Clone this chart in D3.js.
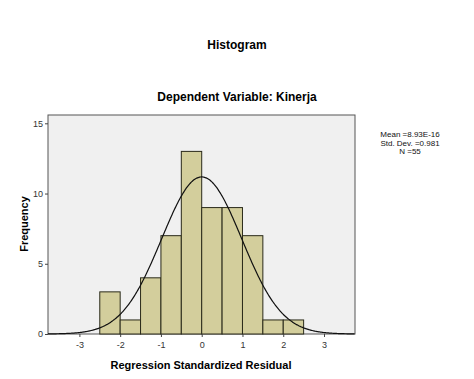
<!DOCTYPE html>
<html><head><meta charset="utf-8">
<script src="https://cdn.jsdelivr.net/npm/d3@7"></script>
<style>body{margin:0;background:#fff}svg{display:block}text{font-family:"Liberation Sans",Arial,sans-serif}</style>
</head><body>
<svg id="c" width="474" height="379"></svg>
<script>
const binStarts = [-2.5,-2.0,-1.5,-1.0,-0.5,0.0,0.5,1.0,1.5,2.0];
const binCounts = [3,1,4,7,13,9,9,7,1,1];
const binWidth = 0.5;
const xTicks = [-3,-2,-1,0,1,2,3];
const yTicks = [0,5,10,15];
const statMean = 8.93e-16, statSD = 0.981, statN = 55;
const statLines = ["Mean =8.93E-16","Std. Dev. =0.981","N =55"];

const svg = d3.select("#c");
const L=48, R=355, T=115, B=334;
const x = d3.scaleLinear().domain([-3.77,3.76]).range([L,R]);
const y = d3.scaleLinear().domain([0,15]).range([B,123.3]);

svg.append("rect").attr("x",L).attr("y",T).attr("width",R-L).attr("height",B-T)
  .attr("fill","#f0f0f0").attr("stroke","#555").attr("stroke-width",1);

svg.append("g").selectAll("rect").data(binStarts).join("rect")
  .attr("x",(d)=>x(d)).attr("width",(d)=>x(d+binWidth)-x(d))
  .attr("y",(d,i)=>y(binCounts[i])).attr("height",(d,i)=>y(0)-y(binCounts[i]))
  .attr("fill","#d3ce9c").attr("stroke","#2a2a1a").attr("stroke-width",1);

// normal curve from stated mean, sd, N
const pts = d3.range(-3.77,3.761,0.02).map(v=>[v, statN*binWidth*Math.exp(-0.5*((v-statMean)/statSD)**2)/(statSD*Math.sqrt(2*Math.PI))]);
svg.append("path").datum(pts).attr("fill","none").attr("stroke","#111").attr("stroke-width",1.2)
  .attr("d",d3.line().x(d=>x(d[0])).y(d=>y(d[1])).curve(d3.curveBasis));

const xa = svg.append("g").attr("transform",`translate(0,${B})`)
  .call(d3.axisBottom(x).tickValues(xTicks).tickSize(3).tickSizeOuter(0).tickFormat(d=>String(d)));
const ya = svg.append("g").attr("transform",`translate(${L},0)`)
  .call(d3.axisLeft(y).tickValues(yTicks).tickSize(3).tickSizeOuter(0).tickFormat(d=>String(d)));
[xa,ya].forEach(a=>{a.select(".domain").remove();a.selectAll("line").attr("stroke","#444");
  a.selectAll("text").attr("fill","#333").style("font-size","9px");});
xa.selectAll("text").attr("dy","0.9em");
ya.selectAll("text").attr("dx","0.1em");

svg.append("text").attr("x",237).attr("y",49).attr("text-anchor","middle")
  .style("font-size","12px").style("font-weight","bold").text("Histogram");
svg.append("text").attr("x",237).attr("y",101).attr("text-anchor","middle")
  .style("font-size","12px").style("font-weight","bold").text("Dependent Variable: Kinerja");
svg.append("text").attr("x",201).attr("y",369).attr("text-anchor","middle")
  .style("font-size","11px").style("font-weight","bold").text("Regression Standardized Residual");
svg.append("text").attr("transform","translate(28,224) rotate(-90)").attr("text-anchor","middle")
  .style("font-size","11px").style("font-weight","bold").text("Frequency");

svg.append("g").selectAll("text").data(statLines).join("text")
  .attr("x",410).attr("y",(d,i)=>137+i*8.5).attr("text-anchor","middle")
  .style("font-size","8px").attr("fill","#111").text(d=>d);
</script>
</body></html>
